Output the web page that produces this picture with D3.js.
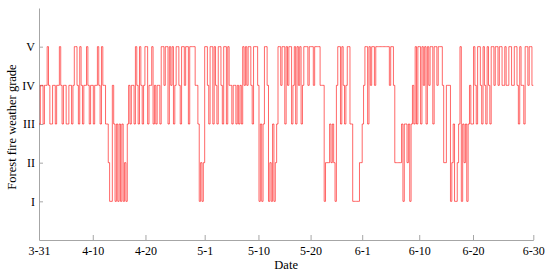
<!DOCTYPE html>
<html>
<head>
<meta charset="utf-8">
<script src="https://cdn.jsdelivr.net/npm/d3@7"></script>
<style>
  body { margin: 0; background: #fff; }
  svg { display: block; }
  .axis text { font-family: "Liberation Serif", "DejaVu Serif", serif; font-size: 12px; fill: #000; }
  .axis path, .axis line { stroke: #a6a6a6; }
  .title { font-family: "Liberation Serif", "DejaVu Serif", serif; font-size: 12.5px; fill: #000; }
</style>
</head>
<body>
<div id="chart"></div>
<script>
// grade read every 6 hours (4 samples / day), 1=I ... 5=V
const gradesApril = [
  "3443445433", "4434454344", "3344345543", "5434454344", "3445435443",
  "3211431313", "131213",
  "43443", "54354", "34553", "44534", "3443",
  "55455", "35453", "45543", "55455", "355",
  "554431212"
]
const gradesMay = [
  "55435", "53543", "55435", "53544", "3443",
  "4343545455435554",
  "13135541213123",
  "55455", "35455", "34535", "45345", "55455", "54555", "5444",
  "122232321",
  "45535434553",
  "311111223"
]
const gradesJune = [
  "45535", "45545", "55555", "55554", "554",
  "2222231332313435",
  "35535", "45354", "55355", "45554", "22444",
  "1231123513231", "343",
  "35435", "54354", "35435", "54554", "55445", "44554", "45543", "54435", "54554", "4"
]
const samplesPerDay = 4

// tick labels and where they sit on the day axis
const tickLabels = ["3-31", "4-10", "4-20", "5-1", "5-10", "5-20", "6-1", "6-10", "6-20", "6-30"]
const tickDays = [0, 9.9, 19.6, 30.5, 40.4, 50, 59.5, 70, 79.9, 91]
const gradeLabels = ["I", "II", "III", "IV", "V"]
const gradeValues = [1, 2, 3, 4, 5]

const grades = [...gradesApril, ...gradesMay, ...gradesJune].join("").split("").map(Number)
const data = grades.map((g, i) => ({ day: i / samplesPerDay, grade: g }))

const width = 550
const height = 275
const margin = { top: 8, right: 16.7, bottom: 35, left: 39 }

const x = d3.scaleLinear()
  .domain([0, 91])
  .range([margin.left, width - margin.right])

const y = d3.scaleLinear()
  .domain([0, 6])
  .range([height - margin.bottom, margin.top])

const svg = d3.select("#chart").append("svg")
  .attr("width", width)
  .attr("height", height)

svg.append("g")
  .attr("class", "axis")
  .attr("transform", `translate(0,${height - margin.bottom})`)
  .call(d3.axisBottom(x)
    .tickValues(tickDays)
    .tickFormat((d, i) => tickLabels[i])
    .tickSizeInner(-5)
    .tickSizeOuter(0)
    .tickPadding(6))

svg.append("g")
  .attr("class", "axis")
  .attr("transform", `translate(${margin.left},0)`)
  .call(d3.axisLeft(y)
    .tickValues(gradeValues)
    .tickFormat((d, i) => gradeLabels[i])
    .tickSizeInner(-4)
    .tickSizeOuter(0)
    .tickPadding(4))

const line = d3.line()
  .x(d => x(d.day))
  .y(d => y(d.grade))
  .curve(d3.curveStepAfter)

svg.append("path")
  .datum(data)
  .attr("fill", "none")
  .attr("stroke", "#ff0000")
  .attr("stroke-width", 0.6)
  .attr("d", line)

svg.append("text")
  .attr("class", "title")
  .attr("text-anchor", "middle")
  .attr("x", (margin.left + width - margin.right) / 2)
  .attr("y", 269)
  .text("Date")

svg.append("text")
  .attr("class", "title")
  .attr("text-anchor", "middle")
  .attr("transform", `translate(16,${(margin.top + height - margin.bottom) / 2 + 3}) rotate(-90)`)
  .text("Forest fire weather grade")
</script>
</body>
</html>
